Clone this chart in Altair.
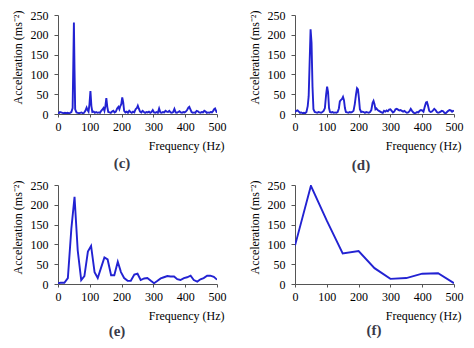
import altair as alt
import pandas as pd

# Panel (c)
c_freq = [0,3,6,10,14,18,22,26,30,34,38,42,46,48,50,52,54,58,62,66,70,74,78,82,86,90,93,96,99,102,105,108,112,116,120,124,128,132,136,140,143,146,149,152,155,158,162,166,170,174,178,182,186,190,193,196,199,202,205,208,212,216,220,224,228,232,236,240,244,248,251,254,258,262,266,270,274,278,282,286,290,294,298,302,306,310,314,318,322,326,330,334,338,342,346,350,354,358,362,366,370,374,378,382,386,390,394,398,402,406,410,413,416,420,424,428,432,436,440,444,448,452,456,460,464,468,472,476,480,484,488,491,494,497,500]
c_acc = [3,2,5,4,3,2,3,2,3,2,3,5,15,120,231,110,12,4,3,2,3,4,2,3,8,16,10,6,25,58,20,5,6,3,5,3,4,3,8,12,15,8,20,40,18,5,4,3,6,8,4,6,14,18,12,20,25,42,30,8,4,6,3,8,5,3,6,4,12,15,21,14,6,4,8,5,3,5,4,6,3,5,10,4,3,5,3,14,4,3,5,4,8,6,5,8,4,3,5,13,4,3,5,7,4,3,5,4,6,10,16,18,12,5,3,4,3,8,7,4,3,5,4,8,6,3,4,3,5,4,8,12,14,8,3]

# Panel (d)
d_freq = [0,4,8,12,16,20,24,28,32,36,40,43,46,49,52,55,58,62,66,70,74,78,82,86,90,94,98,101,104,107,110,114,118,122,126,130,134,138,141,144,148,151,154,157,160,164,168,172,176,180,184,188,192,195,198,201,204,208,212,216,220,224,228,232,236,240,244,247,250,253,256,260,264,268,272,276,280,284,288,292,296,300,304,308,312,316,320,324,328,332,336,340,344,348,352,356,360,364,368,372,376,380,384,388,392,396,400,404,408,412,415,418,422,426,430,434,438,442,446,450,454,458,462,466,470,474,478,482,486,490,494,497,500]
d_acc = [5,8,9,6,3,4,2,3,2,5,20,45,130,214,180,70,12,5,4,3,5,4,3,5,8,15,50,69,55,15,5,4,5,3,4,3,5,14,32,35,38,43,35,15,5,4,3,5,4,5,8,25,50,65,62,40,12,5,6,5,3,5,4,3,5,10,28,33,25,12,14,10,8,6,4,3,8,6,9,7,11,12,8,4,6,12,13,11,9,10,8,6,8,5,3,4,7,13,8,4,2,3,5,4,8,10,9,6,18,29,30,22,8,5,6,9,13,10,5,3,4,6,8,7,3,2,5,8,10,9,6,8,7]

# Panel (e)
e_freq = [0,8,20,31,42,52,62,73,83,94,104,115,125,135,146,156,167,177,188,198,208,219,229,240,250,260,271,281,292,302,313,323,333,344,354,365,375,385,396,406,417,427,438,448,458,469,479,490,500]
e_acc = [2,3,3,15,140,220,85,10,20,82,96,30,15,40,67,62,22,22,56,30,15,8,8,24,26,10,14,15,8,2,8,14,17,20,19,19,12,10,15,17,21,10,6,12,15,21,21,18,11]

# Panel (f)
f_freq = [0,50,100,150,200,250,300,350,400,450,500]
f_acc = [97,248,160,77,83,40,13,15,26,27,2]

x_ticks = [0, 100, 200, 300, 400, 500]
y_ticks = [0, 50, 100, 150, 200, 250]

LINE = "#2222d2"
FONT = "Liberation Serif"
W, H = 159, 99


def panel(freq, acc, label, lx, ly):
    df = pd.DataFrame({"f": freq, "a": acc})
    line = alt.Chart(df).mark_line(color=LINE, strokeWidth=1.9, clip=True).encode(
        x=alt.X(
            "f:Q",
            scale=alt.Scale(domain=[0, 500], nice=False, zero=False),
            axis=alt.Axis(
                values=x_ticks,
                title="Frequency  (Hz)",
                titleX=166,
                titleY=31,
                titleAlign="right",
                titleBaseline="middle",
                labelPadding=4,
                labelFlush=False,
                tickSize=3,
                labelFont=FONT,
                titleFont=FONT,
            ),
        ),
        y=alt.Y(
            "a:Q",
            scale=alt.Scale(domain=[0, 250], nice=False),
            axis=alt.Axis(
                values=y_ticks,
                title="Acceleration  (ms⁻²)",
                titleX=-41,
                titleY=42,
                titleAngle=270,
                titleAlign="center",
                titleBaseline="middle",
                labelPadding=6,
                labelFlush=False,
                tickSize=4,
                labelFont=FONT,
                titleFont=FONT,
            ),
        ),
    )
    lab = alt.Chart(pd.DataFrame({"t": [label]})).mark_text(
        font=FONT, fontSize=15, fontWeight="bold", color="#3a3a48",
        align="center", baseline="middle",
    ).encode(text="t:N", x=alt.value(lx), y=alt.value(ly))
    return alt.layer(line, lab).properties(width=W, height=H)


pc = panel(c_freq, c_acc, "(c)", 64, 148)
pd_ = panel(d_freq, d_acc, "(d)", 66, 150)
pe = panel(e_freq, e_acc, "(e)", 59, 146)
pf = panel(f_freq, f_acc, "(f)", 79, 145)

chart = alt.concat(
    pc, pd_, pe, pf, columns=2,
    spacing=alt.RowColnumber(row=71, column=78),
    bounds="flush",
).properties(
    padding={"left": 11, "top": 8, "right": 5, "bottom": 5},
    background="white",
).configure(font=FONT).configure_view(stroke=None).configure_axis(
    grid=False,
    domainColor="#555555",
    tickColor="#555555",
    labelFontSize=12,
    titleFontSize=12,
    labelColor="#000000",
    titleColor="#000000",
    titleFontWeight="normal",
    domainWidth=1,
)

chart.save("out.html", embed_options={"renderer": "svg", "actions": False})
